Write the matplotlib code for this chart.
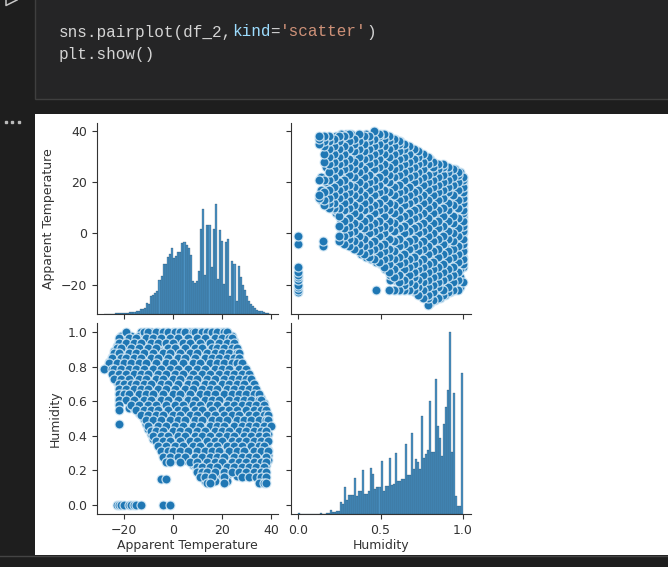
import matplotlib
matplotlib.use('Agg')
import matplotlib.pyplot as plt
from matplotlib.lines import Line2D
from matplotlib.patches import Rectangle
import numpy as np

# ---- data ----
temp_label = 'Apparent Temperature'
hum_label = 'Humidity'
temp_ticks = [-20, 0, 20, 40]
hum_x_ticks = [0.0, 0.5, 1.0]
hum_y_ticks = [0.0, 0.2, 0.4, 0.6, 0.8, 1.0]

# histogram heights, in pixels above the baseline (the count axis is hidden)
temp_hist = [0.2, 0.2, 0.3, 0.4, 0.5, 1.5, 0.8, 1.2, 1.2, 1.2, 1.2, 1.4, 1.6, 2.5, 2.5, 3, 3.5, 5, 5, 6,
             11, 10.5, 18, 19, 21, 23, 34, 38, 50, 50, 57, 60, 66, 56, 58, 62, 62, 71, 72, 69,
             66, 59, 33, 31, 33, 43, 85, 105, 39, 89, 89, 47, 85, 110, 35, 84, 73, 30, 72, 75,
             18, 53, 50, 13, 48, 37, 29, 24, 18, 13, 10, 8, 6, 4, 3.5, 3, 2, 1.5, 0.8, 0.3]
hum_hist = [1.5, 0.5, 0, 0, 0, 0, 0, 0, 0, 0, 0, 1, 0, 0, 1, 1, 4, 2.5, 2.5, 3.5,
            3.5, 12, 10, 27, 14, 19, 19, 19, 36, 18, 23, 23, 44, 20, 20, 23, 46, 40, 25, 27,
            27, 53, 23, 28, 28, 56, 29, 30, 61, 33, 33, 35, 35, 70, 39, 39, 81, 45, 55, 52,
            45, 98, 56, 60, 64, 113, 62, 62, 135, 88, 76, 58, 90, 107, 124, 182, 62, 121, 18, 8,
            8, 141]

# scatter cloud: humidity level -> apparent temperatures seen at that level
# the "back" rows lie underneath and mostly show as the pale mesh between dots
back_levels = [1.0, 0.98, 0.95, 0.92, 0.89, 0.86, 0.83, 0.80, 0.77, 0.74, 0.71, 0.68, 0.65, 0.62, 0.59,
               0.56, 0.53, 0.50, 0.47, 0.44, 0.41, 0.38, 0.35, 0.32, 0.29, 0.26, 0.23, 0.20, 0.17, 0.14]
back_temps = [
    [-13, -11, -9, -6, -3, 0, 2, 4, 6, 7, 10, 11, 13, 15, 17, 19, 20, 22],
    [-21, -17, -14, -12, -9, -6, -4, 0, 3, 5, 8, 11, 14, 16, 18, 21, 23, 24],
    [-22, -20, -17, -14, -12, -8, -5, -2, 1, 3, 6, 9, 12, 14, 17, 20, 22, 24, 25],
    [-23, -20, -18, -15, -12, -9, -6, -4, -1, 2, 4, 8, 10, 13, 15, 19, 22, 23, 25],
    [-24, -20, -19, -16, -13, -11, -7, -5, -3, 0, 4, 6, 8, 11, 15, 18, 19, 22, 25, 26],
    [-25, -23, -20, -17, -15, -11, -8, -5, -3, 1, 3, 6, 8, 11, 14, 17, 20, 21, 24, 26],
    [-26, -24, -22, -18, -15, -12, -10, -6, -4, -1, 1, 5, 7, 10, 12, 16, 19, 22, 25, 27],
    [-27, -24, -22, -20, -16, -13, -10, -7, -4, -2, 1, 3, 7, 9, 12, 15, 18, 21, 24, 26, 28, 29],
    [-25, -23, -20, -17, -15, -12, -9, -7, -4, 0, 3, 5, 9, 11, 14, 16, 20, 23, 26, 29, 30],
    [-24, -22, -20, -17, -13, -10, -8, -5, -2, 1, 5, 6, 9, 13, 16, 18, 20, 23, 26, 29, 31],
    [-23, -21, -19, -16, -14, -11, -8, -6, -3, -1, 3, 5, 8, 11, 15, 18, 19, 22, 25, 28, 31, 32],
    [-22, -20, -18, -15, -12, -9, -7, -4, 0, 2, 4, 7, 10, 13, 17, 19, 21, 24, 27, 30, 32, 33],
    [-22, -21, -17, -15, -12, -9, -7, -5, -1, 2, 4, 6, 10, 12, 16, 19, 20, 23, 26, 29, 32, 34],
    [-22, -20, -17, -15, -13, -10, -7, -4, -1, 1, 4, 7, 10, 12, 14, 17, 21, 24, 27, 30, 33, 36],
    [-22, -18, -16, -12, -9, -6, -4, -1, 3, 5, 7, 10, 13, 16, 20, 23, 26, 29, 32, 35, 37],
    [-18, -16, -13, -11, -8, -5, -1, 0, 3, 6, 10, 13, 15, 18, 21, 24, 27, 29, 32, 35, 37],
    [-14, -12, -9, -6, -3, -1, 1, 4, 8, 9, 12, 15, 19, 22, 25, 28, 30, 33, 36, 38],
    [-12, -10, -6, -4, -2, 1, 4, 7, 8, 11, 14, 18, 20, 24, 27, 30, 33, 36, 39],
    [-11, -9, -6, -2, -1, 3, 6, 8, 10, 13, 15, 19, 23, 25, 28, 31, 34, 36, 39],
    [-10, -8, -5, -3, 1, 2, 5, 8, 11, 14, 16, 19, 22, 25, 28, 31, 34, 37, 38],
    [-9, -6, -3, -1, 1, 4, 7, 10, 13, 14, 17, 21, 24, 27, 30, 31, 34, 37, 39],
    [-8, -5, -3, 0, 2, 5, 8, 11, 13, 16, 19, 22, 26, 28, 31, 34, 35, 38],
    [-6, -5, -2, 0, 3, 6, 9, 12, 14, 16, 20, 23, 26, 29, 31, 34, 36, 38],
    [-5, -4, -1, 1, 4, 7, 9, 12, 15, 18, 21, 24, 27, 30, 32, 34, 37, 38, 39],
    [-4, -3, 0, 1, 4, 7, 8, 11, 14, 17, 19, 23, 26, 29, 32, 35, 37, 39],
    [-3, 0, 2, 5, 8, 9, 11, 13, 16, 19, 22, 26, 29, 32, 35, 37, 39],
    [8, 9, 11, 13, 16, 19, 21, 23, 26, 29, 32, 35, 37, 38],
    [10, 11, 13, 16, 19, 20, 23, 26, 29, 31, 33, 35, 37],
    [12, 13, 16, 18, 20, 22, 26, 30, 32, 34, 36],
    [13, 15, 17, 22, 36, 37],
]
hum_levels = [1.0, 0.97, 0.94, 0.91, 0.88, 0.85, 0.82, 0.79, 0.76, 0.73, 0.70, 0.67, 0.64, 0.61, 0.58,
              0.55, 0.52, 0.49, 0.46, 0.43, 0.40, 0.37, 0.34, 0.31, 0.28, 0.25, 0.22, 0.19, 0.16, 0.13]
temps_at_level = [
    [-19, -12, -10, -7, -4, -2, 1, 3, 5, 8, 9, 12, 14, 16, 18, 21, 22],
    [-22, -18, -15, -11, -8, -5, -1, 2, 6, 10, 13, 17, 20, 23, 24],
    [-22, -19, -16, -13, -9, -6, -3, 0, 4, 7, 11, 15, 19, 22, 25],
    [-23, -21, -17, -14, -10, -7, -2, 1, 5, 9, 12, 16, 18, 21, 24, 26],
    [-24, -22, -18, -15, -12, -8, -4, -1, 3, 7, 10, 14, 17, 20, 23, 26, 27],
    [-25, -21, -19, -16, -13, -9, -6, -2, 2, 5, 9, 13, 16, 19, 22, 25, 27],
    [-26, -23, -20, -17, -14, -11, -7, -3, 0, 4, 8, 11, 15, 18, 21, 24, 26, 28],
    [-28, -25, -24, -21, -18, -15, -12, -8, -5, -1, 2, 6, 10, 13, 17, 20, 23, 27, 30],
    [-25, -22, -19, -16, -13, -10, -6, -3, 1, 4, 8, 12, 15, 19, 22, 25, 28, 31],
    [-24, -21, -18, -14, -11, -7, -4, 0, 3, 7, 10, 14, 17, 21, 24, 27, 30, 32],
    [-22, -20, -17, -15, -12, -9, -5, -2, 2, 6, 9, 13, 16, 20, 23, 26, 29, 33],
    [-22, -19, -16, -13, -10, -6, -3, 1, 5, 8, 12, 15, 18, 22, 25, 28, 31, 34],
    [-22, -20, -18, -14, -11, -8, -4, 0, 3, 7, 11, 14, 17, 21, 24, 27, 30, 33, 35],
    [-22, -19, -16, -12, -9, -5, -2, 2, 6, 9, 13, 16, 19, 23, 26, 29, 32, 35, 36],
    [-22, -17, -14, -10, -7, -3, 1, 4, 8, 11, 15, 18, 22, 25, 28, 31, 34, 37],
    [-22, -15, -12, -9, -6, -2, 2, 5, 9, 12, 16, 20, 23, 26, 30, 33, 36, 38],
    [-13, -10, -7, -4, 0, 3, 7, 10, 14, 17, 21, 24, 27, 31, 34, 37, 39],
    [-11, -8, -5, -1, 2, 5, 9, 12, 16, 19, 22, 26, 29, 32, 35, 38, 39],
    [-10, -6, -3, 1, 4, 8, 11, 15, 18, 21, 25, 28, 31, 34, 37, 40],
    [-9, -7, -4, 0, 3, 6, 10, 13, 17, 20, 23, 27, 30, 33, 36, 38],
    [-8, -5, -2, 2, 5, 9, 12, 15, 19, 22, 25, 29, 32, 35, 38],
    [-7, -4, -1, 3, 7, 10, 14, 17, 20, 24, 27, 30, 33, 36, 39],
    [-6, -3, 1, 4, 8, 11, 15, 18, 22, 25, 28, 32, 35, 37],
    [-5, -2, 0, 3, 6, 10, 13, 16, 19, 23, 26, 29, 33, 36, 39],
    [-4, -1, 2, 5, 9, 12, 15, 18, 21, 25, 28, 31, 34, 38],
    [-3, -1, 3, 7, 10, 14, 17, 20, 24, 27, 30, 33, 36, 38],
    [10, 12, 15, 18, 22, 25, 28, 31, 34, 37],
    [10, 12, 14, 17, 21, 24, 27, 30, 33, 36, 38],
    [11, 13, 16, 21, 28, 31, 34, 36, 38],
    [14, 15, 21, 35, 37, 38],
]
# the points that sit apart from the cloud
lone_temps = [-23, -22, -21, -20, -18, -17, -16, -15, -13, -4, -1, -5, -3, -22]
lone_hums = [0.0, 0.0, 0.0, 0.0, 0.0, 0.0, 0.0, 0.0, 0.0, 0.0, 0.0, 0.15, 0.15, 0.47]

temp_pts = [t for row in back_temps for t in row]
hum_pts = [h for h, row in zip(back_levels, back_temps) for t in row]
temp_pts += [t for row in temps_at_level for t in row] + lone_temps
hum_pts += [h for h, row in zip(hum_levels, temps_at_level) for t in row] + lone_hums

code_line_1 = [('sns.pairplot(df_2,', '#d4d4d4'), ('kind', '#9cdcfe'), ('=', '#d4d4d4'),
               ("'scatter'", '#ce9178'), (')', '#d4d4d4')]
code_line_2 = 'plt.show()'

# ---- figure, sized in pixels of the screenshot ----
W, H = 668, 567
temp_lim = (-31.0, 42.9)
temp_ylim = (-31.4, 43.1)
hum_xlim = (-0.042, 1.048)
hum_ylim = (-0.052, 1.054)
BLUE = '#1f77b4'
INK = '#333333'
TEXT_SIZE = 9.0

plt.rcParams['font.family'] = 'DejaVu Sans'
fig = plt.figure(figsize=(W / 100, H / 100), dpi=100, facecolor='#1e1e1e')


def px_rect(left, top, right, bottom):
    return [left / W, 1 - bottom / H, (right - left) / W, (bottom - top) / H]


def px_axes(left, top, right, bottom):
    ax = fig.add_axes(px_rect(left, top, right, bottom))
    ax.spines[['top', 'right']].set_visible(False)
    ax.spines[['left', 'bottom']].set_color(INK)
    ax.tick_params(colors=INK, labelsize=TEXT_SIZE, labelcolor=INK)
    return ax


def draw_hist(ax, lo, hi, heights, panel_h):
    # counts get their own hidden axis, as on a pairplot diagonal
    hx = ax.twinx()
    edges = np.linspace(lo, hi, len(heights) + 1)
    hx.bar(edges[:-1], heights, width=np.diff(edges), align='edge', color=BLUE, alpha=0.8,
           edgecolor='#12324a', linewidth=0.2)
    hx.set_ylim(0, panel_h)
    hx.axis('off')


def draw_scatter(ax, x, y):
    ax.scatter(x, y, s=42, color=BLUE, edgecolors=(0.85, 0.92, 0.97, 0.85), linewidths=0.9)


# backgrounds, kept under the axes
fig.add_artist(Rectangle((35 / W, 1 - 99 / H), 1, 99 / H + 0.01, transform=fig.transFigure,
                         facecolor='#252526', edgecolor='#3f3f3f', linewidth=1, zorder=-2))
fig.add_artist(Rectangle((35 / W, 1 - 555 / H), 1 - 35 / W, 441 / H, transform=fig.transFigure,
                         facecolor='white', edgecolor='none', zorder=-2))
fig.add_artist(Line2D([0, 1], [1 - 555.5 / H] * 2, transform=fig.transFigure, color='#444444', linewidth=1,
                      zorder=-1))

# run triangle cut by the top edge, and the output dots
fig.add_artist(Line2D(np.array([6, 6, 17]) / W, 1 - np.array([0, 5.5, 0]) / H, transform=fig.transFigure,
                      color='#c8c8c8', linewidth=1.1))
fig.add_artist(Line2D(np.array([6, 12.5, 19]) / W, [1 - 122 / H] * 3, transform=fig.transFigure,
                      linestyle='none', marker='s', markersize=1.6, color='#bbbbbb'))

# code cell
char_w = 9.6
n = 0
for piece, col in code_line_1:
    fig.text((59 + n * char_w) / W, 1 - 32 / H, piece, color=col, family='Liberation Mono', fontsize=11.5,
             va='center', ha='left')
    n += len(piece)
fig.text(59 / W, 1 - 54 / H, code_line_2, color='#d4d4d4', family='Liberation Mono', fontsize=11.5,
         va='center', ha='left')

# ---- the four panels ----
ax_tl = px_axes(97, 123, 278, 314)
draw_hist(ax_tl, -28, 40, temp_hist, 191)
ax_tl.set_xlim(temp_lim)
ax_tl.set_ylim(temp_ylim)
ax_tl.set_xticks(temp_ticks)
ax_tl.set_xticklabels([])
ax_tl.set_yticks([-20, 0, 20, 40])
ax_tl.set_ylabel(temp_label, color=INK, fontsize=TEXT_SIZE)

ax_tr = px_axes(291, 123, 471, 314)
draw_scatter(ax_tr, hum_pts, temp_pts)
ax_tr.set_xlim(hum_xlim)
ax_tr.set_ylim(temp_ylim)
ax_tr.set_xticks(hum_x_ticks)
ax_tr.set_xticklabels([])
ax_tr.set_yticks([-20, 0, 20, 40])
ax_tr.set_yticklabels([])

ax_bl = px_axes(97, 323, 278, 514)
draw_scatter(ax_bl, temp_pts, hum_pts)
ax_bl.set_xlim(temp_lim)
ax_bl.set_ylim(hum_ylim)
ax_bl.set_xticks(temp_ticks)
ax_bl.set_yticks(hum_y_ticks)
ax_bl.set_xlabel(temp_label, color=INK, fontsize=TEXT_SIZE, labelpad=2)
ax_bl.set_ylabel(hum_label, color=INK, fontsize=TEXT_SIZE)

ax_br = px_axes(291, 323, 471, 514)
draw_hist(ax_br, 0, 1, hum_hist, 191)
ax_br.set_xlim(hum_xlim)
ax_br.set_ylim(hum_ylim)
ax_br.set_xticks(hum_x_ticks)
ax_br.set_yticks(hum_y_ticks)
ax_br.set_yticklabels([])
ax_br.set_xlabel(hum_label, color=INK, fontsize=TEXT_SIZE, labelpad=2)

fig.savefig('out.png', dpi=100, facecolor=fig.get_facecolor())
